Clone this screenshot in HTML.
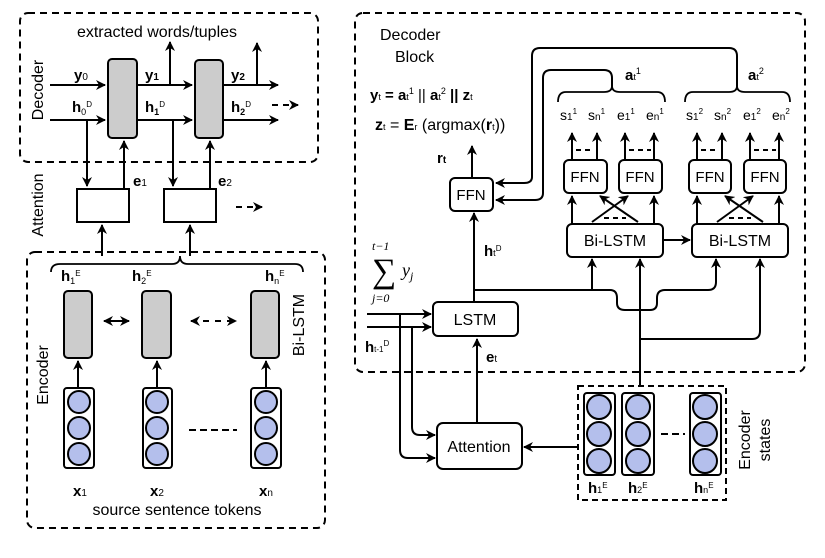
<!DOCTYPE html>
<html><head><meta charset="utf-8"><style>
html,body{margin:0;padding:0;background:#fff;}
svg{display:block;font-family:"Liberation Sans",sans-serif;}
.b{font-weight:bold}
</style></head><body>
<svg width="825" height="558" viewBox="0 0 825 558" xmlns="http://www.w3.org/2000/svg">
<defs>
<marker id="a" viewBox="0 0 10 10" refX="9" refY="5" markerWidth="5" markerHeight="5" orient="auto-start-reverse"><path d="M0,0 L10,5 L0,10 L3,5 z" fill="#000"/></marker>
</defs>
<g fill="none" stroke="#000" stroke-width="2">
<rect x="20" y="13" width="298" height="149" rx="8" stroke-dasharray="7,5"/>
<rect x="27" y="252" width="298" height="276" rx="8" stroke-dasharray="7,5"/>
<rect x="108" y="59" width="29" height="79" rx="4" fill="#ccc"/>
<rect x="195" y="60" width="28" height="78" rx="4" fill="#ccc"/>
<path d="M50,85 H105" marker-end="url(#a)"/>
<path d="M50,120 H105" marker-end="url(#a)"/>
<path d="M137,85 H192" marker-end="url(#a)"/>
<path d="M137,120 H192" marker-end="url(#a)"/>
<path d="M223,85 H278" marker-end="url(#a)"/>
<path d="M223,120 H278" marker-end="url(#a)"/>
<path d="M170,85 V42" marker-end="url(#a)"/>
<path d="M257,85 V43" marker-end="url(#a)"/>
<path d="M272,105 H298" stroke-dasharray="6,5" marker-end="url(#a)"/>
<rect x="77" y="189" width="52" height="33" fill="#fff"/>
<rect x="164" y="189" width="52" height="33" fill="#fff"/>
<path d="M87,120 V186" marker-end="url(#a)"/>
<path d="M124,189 V141" marker-end="url(#a)"/>
<path d="M173,120 V186" marker-end="url(#a)"/>
<path d="M210,189 V141" marker-end="url(#a)"/>
<path d="M236,207 H262" stroke-dasharray="6,5" marker-end="url(#a)"/>
<path d="M102,256 V225" marker-end="url(#a)"/>
<path d="M190,256 V225" marker-end="url(#a)"/>
<path d="M51,272 Q51,264 60,264 H172 Q180,264 180,256 Q180,264 188,264 H295 Q303,264 303,272" stroke-width="1.8"/>
<rect x="64" y="291" width="28" height="67" rx="4" fill="#ccc"/>
<rect x="142" y="291" width="29" height="67" rx="4" fill="#ccc"/>
<rect x="251" y="291" width="28" height="67" rx="4" fill="#ccc"/>
<path d="M104,321 H129" marker-start="url(#a)" marker-end="url(#a)"/>
<path d="M191,321 H236" stroke-dasharray="6,6" marker-start="url(#a)" marker-end="url(#a)"/>
<path d="M78,388 V361" marker-end="url(#a)"/>
<path d="M157,388 V361" marker-end="url(#a)"/>
<path d="M266,388 V361" marker-end="url(#a)"/>
<rect x="64" y="388" width="30" height="80" rx="3"/>
<rect x="143" y="388" width="29" height="80" rx="3"/>
<rect x="251" y="388" width="30" height="80" rx="3"/>
<g fill="#b4bfec">
<circle cx="79" cy="402" r="11"/><circle cx="79" cy="428" r="11"/><circle cx="79" cy="454" r="11"/>
<circle cx="157" cy="402" r="11"/><circle cx="157" cy="428" r="11"/><circle cx="157" cy="454" r="11"/>
<circle cx="266" cy="402" r="11"/><circle cx="266" cy="428" r="11"/><circle cx="266" cy="454" r="11"/>
</g>
<path d="M189,430 H237" stroke-dasharray="7,4"/>

<rect x="355" y="13" width="450" height="359" rx="8" stroke-dasharray="7,5"/>
<rect x="450" y="178" width="43" height="33" rx="5" fill="#fff"/>
<path d="M472,178 V146" marker-end="url(#a)"/>
<path d="M737,88 V56 Q737,48 729,48 H540 Q532,48 532,56 V177 Q532,183 524,183 H496" marker-end="url(#a)"/>
<path d="M612,88 V78 Q612,70 604,70 H551 Q543,70 543,78 V193 Q543,200 535,200 H496" marker-end="url(#a)"/>
<path d="M558,102 Q558,92 566,92 H604 Q612,92 612,86 Q612,92 620,92 H657 Q665,92 665,102" stroke-width="1.8"/>
<path d="M685,102 Q685,92 693,92 H729 Q737,92 737,86 Q737,92 745,92 H782 Q790,92 790,102" stroke-width="1.8"/>
<rect x="564" y="160" width="43" height="33" rx="5"/>
<rect x="619" y="160" width="43" height="33" rx="5"/>
<rect x="689" y="160" width="42" height="33" rx="5"/>
<rect x="744" y="160" width="42" height="33" rx="5"/>
<path d="M572,160 V133" marker-end="url(#a)"/><path d="M597,160 V133" marker-end="url(#a)"/>
<path d="M625,160 V133" marker-end="url(#a)"/><path d="M654,160 V133" marker-end="url(#a)"/>
<path d="M697,160 V133" marker-end="url(#a)"/><path d="M722,160 V133" marker-end="url(#a)"/>
<path d="M750,160 V133" marker-end="url(#a)"/><path d="M779,160 V133" marker-end="url(#a)"/>
<path d="M576,150 H594 M629,150 H651 M701,150 H719 M754,150 H776" stroke-dasharray="5,4"/>
<rect x="567" y="224" width="96" height="33" rx="5"/>
<rect x="692" y="224" width="96" height="33" rx="5"/>
<path d="M663,240 H690" marker-end="url(#a)"/>
<path d="M572,224 V196" marker-end="url(#a)"/><path d="M654,224 V196" marker-end="url(#a)"/>
<path d="M592,222 L628,196" marker-end="url(#a)"/><path d="M638,222 L600,196" marker-end="url(#a)"/>
<path d="M697,224 V196" marker-end="url(#a)"/><path d="M779,224 V196" marker-end="url(#a)"/>
<path d="M717,222 L753,196" marker-end="url(#a)"/><path d="M763,222 L725,196" marker-end="url(#a)"/>
<path d="M604,218 H626 M729,218 H751" stroke-dasharray="5,4"/>
<rect x="433" y="302" width="85" height="34" rx="5"/>
<path d="M474,302 V213" marker-end="url(#a)"/>
<path d="M474,290 H610 Q617,290 617,298 V303 Q617,310 625,310 H650 Q657,310 657,303 V298 Q657,290 665,290 H708 Q716,290 716,282 V259" marker-end="url(#a)"/>
<path d="M592,290 V259" marker-end="url(#a)"/>
<path d="M640,386 V259" marker-end="url(#a)"/>
<path d="M640,339 H752 Q760,339 760,331 V259" marker-end="url(#a)"/>
<path d="M367,314 H431" marker-end="url(#a)"/>
<path d="M367,327 H431" marker-end="url(#a)"/>
<path d="M400,314 V450 Q400,458 408,458 H435" marker-end="url(#a)"/>
<path d="M412,327 V427 Q412,435 420,435 H435" marker-end="url(#a)"/>
<rect x="437" y="423" width="85" height="46" rx="6"/>
<path d="M477,423 V339" marker-end="url(#a)"/>
<rect x="578" y="386" width="148" height="114" stroke-dasharray="6,4"/>
<path d="M578,447 H524" marker-end="url(#a)"/>
<rect x="584" y="393" width="31" height="82" rx="3"/>
<rect x="622" y="393" width="32" height="82" rx="3"/>
<rect x="690" y="393" width="31" height="82" rx="3"/>
<g fill="#b4bfec">
<circle cx="599" cy="407" r="12"/><circle cx="599" cy="434" r="12"/><circle cx="599" cy="461" r="12"/>
<circle cx="638" cy="407" r="12"/><circle cx="638" cy="434" r="12"/><circle cx="638" cy="461" r="12"/>
<circle cx="705" cy="407" r="12"/><circle cx="705" cy="434" r="12"/><circle cx="705" cy="461" r="12"/>
</g>
<path d="M661,434 H685" stroke-dasharray="7,4"/>
</g>

<g fill="#000" font-size="15">
<text x="157" y="37" text-anchor="middle" font-size="16">extracted words/tuples</text>
<text transform="translate(43,90) rotate(-90)" text-anchor="middle" font-size="16">Decoder</text>
<text transform="translate(43,205) rotate(-90)" text-anchor="middle" font-size="16">Attention</text>
<text transform="translate(48,375) rotate(-90)" text-anchor="middle" font-size="16">Encoder</text>
<text transform="translate(304,325) rotate(-90)" text-anchor="middle" font-size="16">Bi-LSTM</text>
<text x="74" y="80" class="b">y<tspan font-size="10" font-weight="normal">0</tspan></text>
<text x="72" y="112" class="b">h<tspan font-size="9" font-weight="normal" dy="3">0</tspan><tspan font-size="8" font-weight="normal" dy="-8">D</tspan></text>
<text x="145" y="80" class="b">y<tspan font-size="10">1</tspan></text>
<text x="145" y="112" class="b">h<tspan font-size="9" dy="3">1</tspan><tspan font-size="8" font-weight="normal" dy="-8">D</tspan></text>
<text x="231" y="80" class="b">y<tspan font-size="10">2</tspan></text>
<text x="231" y="112" class="b">h<tspan font-size="9" dy="3">2</tspan><tspan font-size="8" font-weight="normal" dy="-8">D</tspan></text>
<text x="133" y="186" class="b">e<tspan font-size="10" font-weight="normal">1</tspan></text>
<text x="218" y="186" class="b">e<tspan font-size="10" font-weight="normal">2</tspan></text>
<text x="61" y="281" class="b">h<tspan font-size="9" font-weight="normal" dy="3">1</tspan><tspan font-size="8" font-weight="normal" dy="-8">E</tspan></text>
<text x="132" y="281" class="b">h<tspan font-size="9" font-weight="normal" dy="3">2</tspan><tspan font-size="8" font-weight="normal" dy="-8">E</tspan></text>
<text x="265" y="281" class="b">h<tspan font-size="9" font-weight="normal" dy="3">n</tspan><tspan font-size="8" font-weight="normal" dy="-8">E</tspan></text>
<text x="73" y="496" class="b">x<tspan font-size="10" font-weight="normal">1</tspan></text>
<text x="150" y="496" class="b">x<tspan font-size="10" font-weight="normal">2</tspan></text>
<text x="259" y="496" class="b">x<tspan font-size="10" font-weight="normal">n</tspan></text>
<text x="177" y="515" text-anchor="middle" font-size="16">source sentence tokens</text>

<text x="380" y="40" font-size="16">Decoder</text>
<text x="395" y="62" font-size="16">Block</text>
<text x="370" y="100" class="b">y<tspan font-size="9" font-weight="normal">t</tspan> = a<tspan font-size="9" font-weight="normal">t</tspan><tspan font-size="9" font-weight="normal" dy="-6">1</tspan><tspan dy="6" font-weight="normal"> || </tspan>a<tspan font-size="9" font-weight="normal">t</tspan><tspan font-size="9" font-weight="normal" dy="-6">2</tspan><tspan dy="6"> || z</tspan><tspan font-size="9" font-weight="normal">t</tspan></text>
<text x="375" y="130" font-size="16"><tspan class="b">z</tspan><tspan font-size="9">t</tspan> = <tspan class="b">E</tspan><tspan font-size="9">r</tspan> (argmax(<tspan class="b">r</tspan><tspan font-size="9">t</tspan>))</text>
<text x="437" y="163" class="b">r<tspan font-size="10">t</tspan></text>
<text x="471" y="200" text-anchor="middle" font-size="15">FFN</text>
<text x="585" y="182" text-anchor="middle">FFN</text>
<text x="640" y="182" text-anchor="middle">FFN</text>
<text x="710" y="182" text-anchor="middle">FFN</text>
<text x="765" y="182" text-anchor="middle">FFN</text>
<text x="615" y="246" text-anchor="middle" font-size="16">Bi-LSTM</text>
<text x="740" y="246" text-anchor="middle" font-size="16">Bi-LSTM</text>
<text x="625" y="80" class="b">a<tspan font-size="9" font-weight="normal">t</tspan><tspan font-size="9" font-weight="normal" dy="-6">1</tspan></text>
<text x="748" y="80" class="b">a<tspan font-size="9" font-weight="normal">t</tspan><tspan font-size="9" font-weight="normal" dy="-6">2</tspan></text>
<g font-size="14">
<text x="560" y="120">s<tspan font-size="10">1</tspan><tspan font-size="8" dy="-6">1</tspan></text>
<text x="588" y="120">s<tspan font-size="10">n</tspan><tspan font-size="8" dy="-6">1</tspan></text>
<text x="617" y="120">e<tspan font-size="10">1</tspan><tspan font-size="8" dy="-6">1</tspan></text>
<text x="646" y="120">e<tspan font-size="10">n</tspan><tspan font-size="8" dy="-6">1</tspan></text>
<text x="686" y="120">s<tspan font-size="10">1</tspan><tspan font-size="8" dy="-6">2</tspan></text>
<text x="714" y="120">s<tspan font-size="10">n</tspan><tspan font-size="8" dy="-6">2</tspan></text>
<text x="743" y="120">e<tspan font-size="10">1</tspan><tspan font-size="8" dy="-6">2</tspan></text>
<text x="772" y="120">e<tspan font-size="10">n</tspan><tspan font-size="8" dy="-6">2</tspan></text>
</g>
<text x="484" y="256" class="b">h<tspan font-size="9" font-weight="normal">t</tspan><tspan font-size="8" font-weight="normal" dy="-5">D</tspan></text>
<text x="372" y="250" font-family="Liberation Serif" font-style="italic" font-size="12">t−1</text>
<text x="372" y="282" font-family="Liberation Serif" font-size="34">∑</text>
<text x="402" y="276" font-family="Liberation Serif" font-style="italic" font-size="18">y<tspan font-size="12" dy="4">j</tspan></text>
<text x="372" y="302" font-family="Liberation Serif" font-style="italic" font-size="12">j=0</text>
<text x="475" y="325" text-anchor="middle" font-size="16">LSTM</text>
<text x="365" y="352" class="b">h<tspan font-size="8" font-weight="normal">t-1</tspan><tspan font-size="8" font-weight="normal" dy="-6">D</tspan></text>
<text x="486" y="362" class="b">e<tspan font-size="10" font-weight="normal">t</tspan></text>
<text x="479" y="452" text-anchor="middle" font-size="16">Attention</text>
<text x="588" y="493" class="b">h<tspan font-size="9" font-weight="normal">1</tspan><tspan font-size="8" font-weight="normal" dy="-5">E</tspan></text>
<text x="628" y="493" class="b">h<tspan font-size="9" font-weight="normal">2</tspan><tspan font-size="8" font-weight="normal" dy="-5">E</tspan></text>
<text x="694" y="493" class="b">h<tspan font-size="9" font-weight="normal">n</tspan><tspan font-size="8" font-weight="normal" dy="-5">E</tspan></text>
<text transform="translate(750,440) rotate(-90)" text-anchor="middle" font-size="16">Encoder</text>
<text transform="translate(770,440) rotate(-90)" text-anchor="middle" font-size="16">states</text>
</g>
</svg>
</body></html>
